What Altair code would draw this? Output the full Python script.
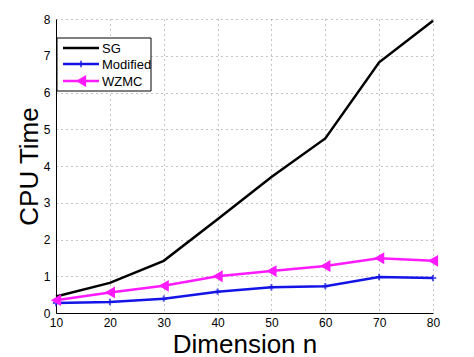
import altair as alt
import pandas as pd

dims = [10, 20, 30, 40, 50, 60, 70, 80]
sg = [0.45, 0.82, 1.42, 2.55, 3.70, 4.75, 6.82, 7.95]
modified = [0.27, 0.30, 0.39, 0.58, 0.70, 0.73, 0.98, 0.95]
wzmc = [0.35, 0.56, 0.74, 1.00, 1.14, 1.28, 1.49, 1.42]
series_names = ["SG", "Modified", "WZMC"]
series_colors = ["#000000", "#1414E6", "#FF1AFF"]
x_ticks = [10, 20, 30, 40, 50, 60, 70, 80]
y_ticks = [0, 1, 2, 3, 4, 5, 6, 7, 8]

FONT = "Liberation Sans"

df = pd.DataFrame({
    "n": dims * 3,
    "t": sg + modified + wzmc,
    "s": [series_names[0]] * 8 + [series_names[1]] * 8 + [series_names[2]] * 8,
})

xs = alt.Scale(domain=[10, 80], nice=False, zero=False)
ys = alt.Scale(domain=[0, 8], nice=False)

xax = alt.Axis(values=x_ticks, tickCount=8, title="Dimension n", titleFontSize=26, titleFontWeight="normal",
               titleFont=FONT, titleColor="#000", labelFont=FONT, labelFontSize=12, labelColor="#000",
               grid=True, gridDash=[1, 4], gridColor="#888", domainColor="#000", ticks=False,
               labelPadding=4, labelFlush=False, labelOverlap=False,
               titleBaseline="alphabetic", titleY=39)
yax = alt.Axis(values=y_ticks, tickCount=9, title="CPU Time", titleFontSize=26, titleFontWeight="normal",
               titleFont=FONT, titleColor="#000", labelFont=FONT, labelFontSize=12, labelColor="#000",
               grid=True, gridDash=[1, 4], gridColor="#888", domainColor="#000", ticks=False,
               labelPadding=6, labelFlush=False, labelOverlap=False,
               titleBaseline="alphabetic", titleX=-19, titleY=147)

base = alt.Chart(df)
X = alt.X("n:Q", scale=xs, axis=xax)
Y = alt.Y("t:Q", scale=ys, axis=yax)

lines = base.mark_line(strokeWidth=2.5).encode(
    x=X, y=Y,
    color=alt.Color("s:N", scale=alt.Scale(domain=series_names, range=series_colors), legend=None),
    detail="s:N",
)

mod_pts = base.transform_filter(alt.datum.s == "Modified").mark_point(
    shape="M-1,0L1,0M0,-1L0,1", size=40, strokeWidth=2, color=series_colors[1], filled=False
).encode(x=X, y=Y)

wz_pts = base.transform_filter(alt.datum.s == "WZMC").mark_point(
    shape="triangle-left", size=140, filled=True, color=series_colors[2], opacity=1
).encode(x=X, y=Y)

# legend (drawn in pixel space of plot area)
leg_box = alt.Chart(pd.DataFrame({"a": [0]})).mark_rect(
    fill="white", stroke="#000", strokeWidth=1
).encode(x=alt.value(1), x2=alt.value(95), y=alt.value(19), y2=alt.value(72))

leg_layers = [leg_box]
row_y = [29, 45, 62]
for i, name in enumerate(series_names):
    d = pd.DataFrame({"label": [name]})
    leg_layers.append(alt.Chart(d).mark_rule(color=series_colors[i], strokeWidth=2.5).encode(
        x=alt.value(7), x2=alt.value(43), y=alt.value(row_y[i])))
    leg_layers.append(alt.Chart(d).mark_text(align="left", baseline="middle", font=FONT,
                                             fontSize=13, color="#000").encode(
        x=alt.value(46), y=alt.value(row_y[i] + 1), text="label:N"))
leg_layers.append(alt.Chart(pd.DataFrame({"a": [0]})).mark_point(
    shape="M-1,0L1,0M0,-1L0,1", size=40, strokeWidth=2, color=series_colors[1], filled=False
).encode(x=alt.value(25), y=alt.value(row_y[1])))
leg_layers.append(alt.Chart(pd.DataFrame({"a": [0]})).mark_point(
    shape="triangle-left", size=140, filled=True, color=series_colors[2], opacity=1
).encode(x=alt.value(25), y=alt.value(row_y[2])))

chart = alt.layer(lines, mod_pts, wz_pts, *leg_layers).properties(
    width=377, height=294,
    autosize=alt.AutoSizeParams(type="none"),
    padding={"left": 56, "top": 19, "right": 41, "bottom": 44},
    background="white",
).configure_view(stroke=None)

chart.save("out.html", embed_options={"renderer": "svg", "actions": False})
